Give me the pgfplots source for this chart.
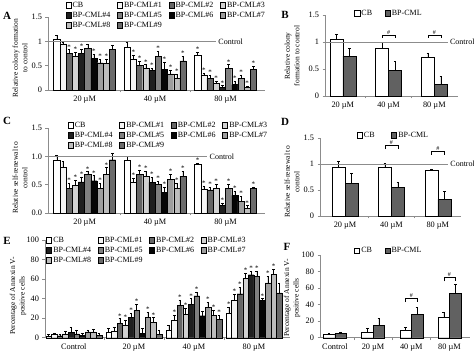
\documentclass[border=0pt]{standalone}
\usepackage{pgfplots}
\pgfplotsset{compat=1.18}
\usepackage{pgfplotstable}
\usepackage{fontspec}
\setmainfont{Liberation Serif}

\definecolor{c0}{gray}{1}
\definecolor{c1}{gray}{0.96}
\definecolor{c2}{gray}{0.40}
\definecolor{c3}{gray}{0.82}
\definecolor{c4}{gray}{0.12}
\definecolor{c5}{gray}{0.50}
\definecolor{c6}{gray}{0.02}
\definecolor{c7}{gray}{0.62}
\definecolor{c8}{gray}{0.74}
\definecolor{c9}{gray}{0.42}
\definecolor{bpc}{gray}{0.38}
\definecolor{axc}{gray}{0.55}

\pgfplotsset{
  panel/.style={
    scale only axis, clip=false,
    axis x line*=bottom, axis y line*=left,
    axis line style={axc, line width=0.6pt},
    tick style={axc, line width=0.5pt},
    tick align=outside, major tick length=2.5bp,
    ymin=0,
    tick label style={font=\fontsize{8.3bp}{9bp}\selectfont},
    /pgf/number format/assume math mode=true,
    ybar=0pt,
    legend style={draw=none, fill=none, font=\fontsize{8bp}{9bp}\selectfont,
      inner sep=0pt, anchor=north west,
      nodes={inner sep=1.6bp},
      /tikz/every even column/.append style={column sep=5bp}},
    legend image code/.code={\draw[##1, draw=black, line width=0.3pt] (0bp,-2.6bp) rectangle (5.2bp,2.6bp);},
    legend cell align=left,
    error bars/y dir=plus, error bars/y explicit,
    error bars/error bar style={black, line width=0.4pt},
    error bars/error mark options={rotate=90, black, mark size=1.3bp, line width=0.4pt},
  },
  ser/.style={fill=c#1, draw=black, line width=0.35pt},
  star/.style 2 args={nodes near coords, point meta=explicit symbolic,
    visualization depends on={\thisrow{#1}*#2 \as \errshift},
    every node near coord/.append style={font=\fontsize{7bp}{7bp}\selectfont, inner sep=0.4bp, anchor=south, yshift=\errshift*1bp}},
}

\pgfplotstableread{
x v0 v1 v2 v3 v4 v5 v6 v7 v8 v9 e0 e1 e2 e3 e4 e5 e6 e7 e8 e9 s0 s1 s2 s3 s4 s5 s6 s7 s8 s9
0 1.04 0.95 0.75 0.70 0.75 0.85 0.65 0.56 0.55 0.84 0.08 0.04 0.08 0.08 0.09 0.10 0.08 0.07 0.09 0.08 {} {} * * * {} * * * {}
1 0.87 0.64 0.50 0.45 0.41 0.69 0.43 0.33 0.24 0.60 0.11 0.07 0.10 0.07 0.04 0.10 0.15 0.08 0.09 0.09 {} * * * * * * * * *
2 0.71 0.31 0.24 0.14 0.05 0.45 0.11 0.24 0.05 0.43 0.07 0.04 0.07 0.05 0.04 0.07 0.07 0.07 0.03 0.06 * * * * * * * * * *
}\tabA

\pgfplotstableread{
x v0 v1 v2 v3 v4 v5 v6 v7 v8 v9 e0 e1 e2 e3 e4 e5 e6 e7 e8 e9 s0 s1 s2 s3 s4 s5 s6 s7 s8 s9
0 0.94 0.80 0.44 0.49 0.55 0.68 0.57 0.43 0.68 0.94 0.08 0.11 0.08 0.09 0.09 0.05 0.09 0.10 0.12 0.12 {} {} * * * * * * * {}
1 0.94 0.54 0.68 0.65 0.54 0.50 0.36 0.59 0.43 0.65 0.06 0.08 0.08 0.09 0.09 0.06 0.09 0.09 0.09 0.09 {} * * * * * * * * *
2 0.86 0.42 0.41 0.44 0.14 0.43 0.31 0.21 0.08 0.43 0.02 0.06 0.05 0.07 0.04 0.08 0.07 0.08 0.05 0.03 * * * * * * * * * *
}\tabC

\pgfplotstableread{
x v0 v1 v2 v3 v4 v5 v6 v7 v8 v9 e0 e1 e2 e3 e4 e5 e6 e7 e8 e9 s0 s1 s2 s3 s4 s5 s6 s7 s8 s9
0 2 3.5 2 4 5.5 4 2.5 6 6 2.5 1.5 1.5 2 3 5 4 2 2 3 2 {} {} {} {} {} {} {} {} {} {}
1 5.5 7 14.5 13 20.5 28 4.5 21 15.5 3.5 4 4 5 5 5 6 5 5 5 4 {} {} * * * * {} * * {}
2 7.8 18 33 24 34 43 22.5 31 23 19 5 5 5 6 6 4 5 5 5 4 {} * * * * * {} * * *
3 25 38.5 45 61 64.5 63 38 56 65 46 6 6 7 5 4 5 2 7 5 10 * * * * * * * * * {}
}\tabE

\pgfplotstableread{
x cb ecb bp ebp
0 1.05 0.09 0.74 0.14
1 0.88 0.11 0.48 0.16
2 0.72 0.08 0.22 0.15
}\tabB

\pgfplotstableread{
x cb ecb bp ebp
0 0.94 0.11 0.63 0.20
1 0.94 0.08 0.55 0.11
2 0.88 0.03 0.32 0.16
}\tabD

\pgfplotstableread{
x cb ecb bp ebp
0 4.0 1.5 5.0 1.5
1 6.5 5.0 15.3 8.0
2 8.5 4.0 28.3 8.0
3 25.4 5.3 53.7 11.0
}\tabF

\newcommand{\lab}{\fontsize{7.5bp}{9.5bp}\selectfont}
\newcommand{\ctl}{\fontsize{8bp}{9bp}\selectfont}
\newcommand{\hs}{\fontsize{6bp}{6bp}\selectfont}

\begin{document}
\begin{tikzpicture}
\path[use as bounding box] (0,0) rectangle (474bp,354bp);

% panel letters
\node[font=\bfseries\fontsize{11bp}{11bp}\selectfont] at (7bp,338bp) {A};
\node[font=\bfseries\fontsize{11bp}{11bp}\selectfont] at (285bp,339bp) {B};
\node[font=\bfseries\fontsize{11bp}{11bp}\selectfont] at (7bp,233bp) {C};
\node[font=\bfseries\fontsize{11bp}{11bp}\selectfont] at (285bp,232bp) {D};
\node[font=\bfseries\fontsize{11bp}{11bp}\selectfont] at (7bp,113bp) {E};
\node[font=\bfseries\fontsize{11bp}{11bp}\selectfont] at (287bp,107bp) {F};

% y labels
\node[rotate=90, align=center, font=\lab] at (20bp,296bp) {Relative colony formation\\to control};
\node[rotate=90, align=center, font=\lab] at (292bp,298bp) {Relative colony\\formation to control};
\node[rotate=90, align=center, font=\lab] at (20bp,176bp) {Relative self-renewal to\\control};
\node[rotate=90, align=center, font=\lab] at (292bp,172bp) {Relative self-renewal to\\control};
\node[rotate=90, align=center, font=\lab] at (18bp,58bp) {Percentage of Annexin V-\\positive cells};
\node[rotate=90, align=center, font=\lab] at (292bp,56bp) {Percentage of Annexin V-\\positive cells};

% ---------------- Panel A
\begin{axis}[panel, at={(48bp,264bp)}, anchor=south west, width=217bp, height=73bp,
  xmin=-0.52, xmax=2.56, ymax=1.5,
  ytick={0,0.5,1,1.5}, yticklabels={0,0.5,1,1.5},
  xtick={0.5,1.5}, xticklabels={},
  extra x ticks={0,1,2}, extra x tick labels={20 µM,40 µM,80 µM},
  extra x tick style={tick style={draw=none}},
  bar width=6.2bp, legend columns=4, legend style={at={(0.08,1.233)}}]
\addplot[ser=0, star={e0}{48.67}] table[x=x,y=v0,y error=e0,meta=s0]{\tabA}; \addlegendentry{CB}
\addplot[ser=1, star={e1}{48.67}] table[x=x,y=v1,y error=e1,meta=s1]{\tabA}; \addlegendentry{BP-CML\#1}
\addplot[ser=2, star={e2}{48.67}] table[x=x,y=v2,y error=e2,meta=s2]{\tabA}; \addlegendentry{BP-CML\#2}
\addplot[ser=3, star={e3}{48.67}] table[x=x,y=v3,y error=e3,meta=s3]{\tabA}; \addlegendentry{BP-CML\#3}
\addplot[ser=4, star={e4}{48.67}] table[x=x,y=v4,y error=e4,meta=s4]{\tabA}; \addlegendentry{BP-CML\#4}
\addplot[ser=5, star={e5}{48.67}] table[x=x,y=v5,y error=e5,meta=s5]{\tabA}; \addlegendentry{BP-CML\#5}
\addplot[ser=6, star={e6}{48.67}] table[x=x,y=v6,y error=e6,meta=s6]{\tabA}; \addlegendentry{BP-CML\#6}
\addplot[ser=7, star={e7}{48.67}] table[x=x,y=v7,y error=e7,meta=s7]{\tabA}; \addlegendentry{BP-CML\#7}
\addplot[ser=8, star={e8}{48.67}] table[x=x,y=v8,y error=e8,meta=s8]{\tabA}; \addlegendentry{BP-CML\#8}
\addplot[ser=9, star={e9}{48.67}] table[x=x,y=v9,y error=e9,meta=s9]{\tabA}; \addlegendentry{BP-CML\#9}
\draw[axc, line width=0.9pt] (axis cs:-0.52,1) -- (axis cs:1.865,1) node[right, black, font=\ctl, inner sep=2bp] {Control};
\end{axis}

% ---------------- Panel B
\begin{axis}[panel, at={(325bp,258bp)}, anchor=south west, width=132.7bp, height=81bp,
  xmin=-0.39, xmax=2.51, ymax=1.5,
  ytick={0,0.5,1,1.5}, yticklabels={0,0.5,1,1.5},
  xtick={0.5,1.5}, xticklabels={},
  extra x ticks={0,1,2}, extra x tick labels={20 µM,40 µM,80 µM},
  extra x tick style={tick style={draw=none}},
  bar width=13bp, legend columns=2,
  legend style={at={(0.22,1.086)}, /tikz/every even column/.append style={column sep=11bp}}]
\addplot[ser=0] table[x=x,y=cb,y error=ecb]{\tabB}; \addlegendentry{CB}
\addplot[fill=bpc, draw=black, line width=0.35pt] table[x=x,y=bp,y error=ebp]{\tabB}; \addlegendentry{BP-CML}
\draw[axc, line width=0.9pt] (axis cs:-0.39,1) -- (axis cs:2.30,1) node[right, black, font=\ctl, inner sep=1.5bp] {Control};
\draw[black, line width=0.4pt] (axis cs:0.858,1.08) |- (axis cs:1.142,1.13) -- (axis cs:1.142,1.08);
\node[font=\hs, anchor=south, inner sep=0.5bp] at (axis cs:1,1.13) {\#};
\draw[black, line width=0.4pt] (axis cs:1.858,1.08) |- (axis cs:2.142,1.13) -- (axis cs:2.142,1.08);
\node[font=\hs, anchor=south, inner sep=0.5bp] at (axis cs:2,1.13) {\#};
\end{axis}

% ---------------- Panel C
\begin{axis}[panel, at={(48bp,141bp)}, anchor=south west, width=217bp, height=85bp,
  xmin=-0.52, xmax=2.56, ymax=1.5,
  ytick={0,0.5,1,1.5}, yticklabels={0.0,0.5,1.0,1.5},
  xtick={0.5,1.5}, xticklabels={},
  extra x ticks={0,1,2}, extra x tick labels={20 µM,40 µM,80 µM},
  extra x tick style={tick style={draw=none}},
  bar width=6.2bp, legend columns=4, legend style={at={(0.09,1.094)}}]
\addplot[ser=0, star={e0}{56.67}] table[x=x,y=v0,y error=e0,meta=s0]{\tabC}; \addlegendentry{CB}
\addplot[ser=1, star={e1}{56.67}] table[x=x,y=v1,y error=e1,meta=s1]{\tabC}; \addlegendentry{BP-CML\#1}
\addplot[ser=2, star={e2}{56.67}] table[x=x,y=v2,y error=e2,meta=s2]{\tabC}; \addlegendentry{BP-CML\#2}
\addplot[ser=3, star={e3}{56.67}] table[x=x,y=v3,y error=e3,meta=s3]{\tabC}; \addlegendentry{BP-CML\#3}
\addplot[ser=4, star={e4}{56.67}] table[x=x,y=v4,y error=e4,meta=s4]{\tabC}; \addlegendentry{BP-CML\#4}
\addplot[ser=5, star={e5}{56.67}] table[x=x,y=v5,y error=e5,meta=s5]{\tabC}; \addlegendentry{BP-CML\#5}
\addplot[ser=6, star={e6}{56.67}] table[x=x,y=v6,y error=e6,meta=s6]{\tabC}; \addlegendentry{BP-CML\#6}
\addplot[ser=7, star={e7}{56.67}] table[x=x,y=v7,y error=e7,meta=s7]{\tabC}; \addlegendentry{BP-CML\#7}
\addplot[ser=8, star={e8}{56.67}] table[x=x,y=v8,y error=e8,meta=s8]{\tabC}; \addlegendentry{BP-CML\#8}
\addplot[ser=9, star={e9}{56.67}] table[x=x,y=v9,y error=e9,meta=s9]{\tabC}; \addlegendentry{BP-CML\#9}
\draw[axc, line width=0.9pt] (axis cs:-0.52,1) -- (axis cs:1.74,1) node[right, black, font=\ctl, inner sep=2bp] {Control};
\end{axis}

% ---------------- Panel D
\begin{axis}[panel, at={(320bp,138bp)}, anchor=south west, width=141bp, height=77.7bp,
  xmin=-0.54, xmax=2.5, ymax=1.5,
  ytick={0,0.5,1,1.5}, yticklabels={0,0.5,1,1.5},
  xtick={0.5,1.5}, xticklabels={},
  extra x ticks={0,1,2}, extra x tick labels={20 µM,40 µM,80 µM},
  extra x tick style={tick style={draw=none}},
  bar width=13bp, legend columns=2,
  legend style={at={(0.26,1.107)}, /tikz/every even column/.append style={column sep=15bp}}]
\addplot[ser=0] table[x=x,y=cb,y error=ecb]{\tabD}; \addlegendentry{CB}
\addplot[fill=bpc, draw=black, line width=0.35pt] table[x=x,y=bp,y error=ebp]{\tabD}; \addlegendentry{BP-CML}
\draw[axc, line width=0.9pt] (axis cs:-0.54,1) -- (axis cs:2.23,1) node[right, black, font=\ctl, inner sep=1.5bp] {Control};
\draw[black, line width=0.4pt] (axis cs:0.86,1.29) |- (axis cs:1.14,1.36) -- (axis cs:1.14,1.29);
\node[font=\hs, anchor=south, inner sep=0.5bp] at (axis cs:1,1.36) {\#};
\draw[black, line width=0.4pt] (axis cs:1.86,1.18) |- (axis cs:2.14,1.25) -- (axis cs:2.14,1.18);
\node[font=\hs, anchor=south, inner sep=0.5bp] at (axis cs:2,1.25) {\#};
\end{axis}

% ---------------- Panel E
\begin{axis}[panel, at={(45bp,16.3bp)}, anchor=south west, width=245bp, height=97.7bp,
  xmin=-0.48, xmax=3.6, ymax=100,
  ytick={0,20,40,60,80,100},
  xtick={0.5,1.5,2.5}, xticklabels={},
  extra x ticks={0,1,2,3}, extra x tick labels={Control,20 µM,40 µM,80 µM},
  extra x tick style={tick style={draw=none}},
  bar width=5.6bp, legend columns=4, legend style={at={(0.004,1.051)}}]
\addplot[ser=0, star={e0}{0.977}] table[x=x,y=v0,y error=e0,meta=s0]{\tabE}; \addlegendentry{CB}
\addplot[ser=1, star={e1}{0.977}] table[x=x,y=v1,y error=e1,meta=s1]{\tabE}; \addlegendentry{BP-CML\#1}
\addplot[ser=2, star={e2}{0.977}] table[x=x,y=v2,y error=e2,meta=s2]{\tabE}; \addlegendentry{BP-CML\#2}
\addplot[ser=3, star={e3}{0.977}] table[x=x,y=v3,y error=e3,meta=s3]{\tabE}; \addlegendentry{BP-CML\#3}
\addplot[ser=4, star={e4}{0.977}] table[x=x,y=v4,y error=e4,meta=s4]{\tabE}; \addlegendentry{BP-CML\#4}
\addplot[ser=5, star={e5}{0.977}] table[x=x,y=v5,y error=e5,meta=s5]{\tabE}; \addlegendentry{BP-CML\#5}
\addplot[ser=6, star={e6}{0.977}] table[x=x,y=v6,y error=e6,meta=s6]{\tabE}; \addlegendentry{BP-CML\#6}
\addplot[ser=7, star={e7}{0.977}] table[x=x,y=v7,y error=e7,meta=s7]{\tabE}; \addlegendentry{BP-CML\#7}
\addplot[ser=8, star={e8}{0.977}] table[x=x,y=v8,y error=e8,meta=s8]{\tabE}; \addlegendentry{BP-CML\#8}
\addplot[ser=9, star={e9}{0.977}] table[x=x,y=v9,y error=e9,meta=s9]{\tabE}; \addlegendentry{BP-CML\#9}
\end{axis}

% ---------------- Panel F
\begin{axis}[panel, at={(320bp,16.3bp)}, anchor=south west, width=149.7bp, height=82.7bp,
  xmin=-0.39, xmax=3.53, ymax=100,
  ytick={0,20,40,60,80,100},
  xtick={0.5,1.5,2.5}, xticklabels={},
  extra x ticks={0,1,2,3}, extra x tick labels={Control,20 µM,40 µM,80 µM},
  extra x tick style={tick style={draw=none}},
  bar width=11.5bp, legend columns=2,
  legend style={at={(0.227,1.12)}, /tikz/every even column/.append style={column sep=11bp}}]
\addplot[ser=0] table[x=x,y=cb,y error=ecb]{\tabF}; \addlegendentry{CB}
\addplot[fill=bpc, draw=black, line width=0.35pt] table[x=x,y=bp,y error=ebp]{\tabF}; \addlegendentry{BP-CML}
\draw[black, line width=0.4pt] (axis cs:1.85,43) |- (axis cs:2.15,48) -- (axis cs:2.15,43);
\node[font=\hs, anchor=south, inner sep=0.5bp] at (axis cs:2,48) {\#};
\draw[black, line width=0.4pt] (axis cs:2.85,68) |- (axis cs:3.15,73) -- (axis cs:3.15,68);
\node[font=\hs, anchor=south, inner sep=0.5bp] at (axis cs:3,73) {\#};
\end{axis}
\end{tikzpicture}
\end{document}
